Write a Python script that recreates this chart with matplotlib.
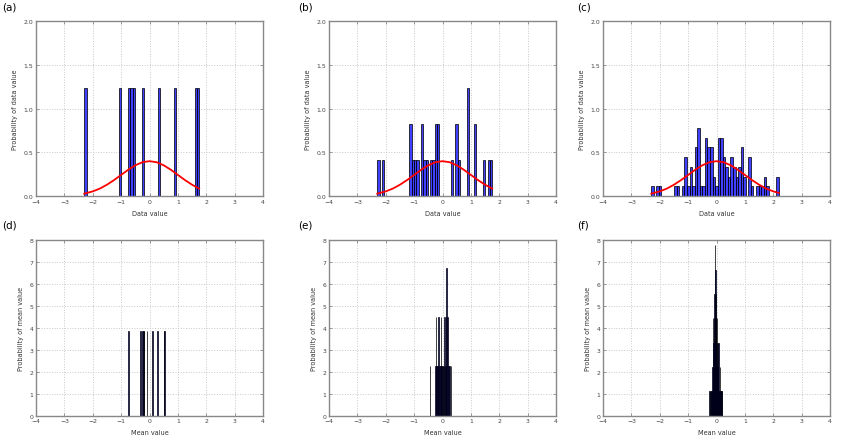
import numpy as np
import matplotlib
matplotlib.use('Agg')
import matplotlib.pyplot as plt

# top row: histograms of 10, 30 and 100 data values (50 bins each)
n_top = [10, 30, 100]
range_top = [(-2.3, 1.75), (-2.3, 1.75), (-2.3, 2.2)]
counts_a = [1, 0, 0, 0, 0, 0, 0, 0, 0, 0,
            0, 0, 0, 0, 0, 1, 0, 0, 0, 1,
            1, 1, 0, 0, 0, 1, 0, 0, 0, 0,
            0, 0, 1, 0, 0, 0, 0, 0, 0, 1,
            0, 0, 0, 0, 0, 0, 0, 0, 1, 1]
counts_b = [1, 0, 1, 0, 0, 0, 0, 0, 0, 0,
            0, 0, 0, 0, 2, 1, 1, 1, 0, 2,
            1, 1, 0, 1, 1, 2, 2, 0, 0, 0,
            0, 0, 1, 0, 2, 1, 0, 0, 0, 3,
            0, 0, 2, 0, 0, 0, 1, 0, 1, 1]
counts_c = [1, 0, 1, 1, 0, 0, 0, 0, 0, 1,
            1, 0, 1, 4, 1, 3, 1, 5, 7, 1,
            1, 6, 5, 5, 2, 1, 6, 6, 4, 3,
            2, 4, 3, 2, 3, 5, 2, 0, 4, 1,
            0, 1, 1, 1, 2, 1, 0, 0, 0, 2]

# bottom row: histograms of the mean values
n_bot = [10, 30, 100]
range_bot = [(-0.75, 0.55), (-0.44, 0.30), (-0.25, 0.20)]
counts_d = [1, 0, 0, 0, 0, 0, 0, 0, 0, 0,
            0, 0, 0, 0, 0, 0, 1, 0, 0, 1,
            1, 1, 0, 0, 0, 1, 0, 0, 0, 0,
            0, 0, 1, 0, 0, 0, 0, 0, 0, 1,
            0, 0, 0, 0, 0, 0, 0, 0, 1, 1]
counts_e = [1, 0, 0, 0, 0, 0, 0, 0, 0, 0,
            0, 0, 0, 1, 2, 1, 0, 1, 0, 1,
            2, 0, 1, 0, 1, 2, 0, 1, 0, 1,
            0, 1, 0, 1, 2, 0, 1, 0, 2, 3,
            0, 2, 0, 1, 0, 0, 1, 0, 0, 1]
counts_f = [1, 0, 0, 1, 0, 1, 1, 0, 1, 1,
            1, 2, 1, 4, 2, 3, 2, 3, 4, 5,
            3, 7, 4, 6, 3, 5, 4, 3, 4, 2,
            2, 2, 3, 2, 2, 3, 1, 1, 1, 1,
            1, 0, 2, 1, 1, 0, 1, 1, 0, 1]

# red reference curve (probability density)
curve_x = [-2.3, -2.0, -1.75, -1.5, -1.25, -1.0, -0.75, -0.5, -0.25, 0.0,
           0.25, 0.5, 0.75, 1.0, 1.25, 1.5, 1.75, 2.0, 2.2]
curve_y = [0.028, 0.054, 0.086, 0.130, 0.183, 0.242, 0.301, 0.352, 0.387, 0.399,
           0.387, 0.352, 0.301, 0.242, 0.183, 0.130, 0.086, 0.054, 0.036]

labels_top = ['(a)', '(b)', '(c)']
labels_bot = ['(d)', '(e)', '(f)']

fig = plt.figure(figsize=(8.59, 4.39), dpi=100)
lefts = [0.0419, 0.3830, 0.7020]
label_x = [0.003, 0.347, 0.672]
w, h = 0.2643, 0.399
fs = 4.4
tick_col = '#444444'


def style(ax, ymax, yticks, xlab, ylab, ylab_x):
    ax.set_xlim(-4, 4)
    ax.set_ylim(0, ymax)
    ax.set_xticks(range(-4, 5))
    ax.set_yticks(yticks)
    ax.grid(True, linestyle=':', color='#c8c8c8', linewidth=0.7)
    ax.set_axisbelow(True)
    for s in ax.spines.values():
        s.set_color('#888888')
        s.set_linewidth(1.0)
    ax.tick_params(direction='in', top=True, right=True, length=2.5, width=0.5,
                   color='#777777', labelsize=fs, labelcolor=tick_col, pad=2)
    ax.set_xlabel(xlab, fontsize=fs + 0.3, color='#333333')
    ax.set_ylabel(ylab, fontsize=fs + 0.3, color='#333333')
    ax.xaxis.set_label_coords(0.5, -0.078)
    ax.yaxis.set_label_coords(ylab_x, 0.5)


def draw_hist(ax, counts, rng, n):
    edges = np.linspace(rng[0], rng[1], len(counts) + 1)
    centers = (edges[:-1] + edges[1:]) / 2
    width = edges[1] - edges[0]
    weights = np.array(counts) / (n * width)
    ax.hist(centers, bins=edges, weights=weights, facecolor='b', edgecolor='k',
            linewidth=0.7, alpha=0.75)


top_counts = [counts_a, counts_b, counts_c]
for i in range(3):
    ax = fig.add_axes([lefts[i], 0.551, w, h])
    draw_hist(ax, top_counts[i], range_top[i], n_top[i])
    cx = np.array(curve_x)
    cy = np.array(curve_y)
    keep = cx <= range_top[i][1] + 1e-9
    ax.plot(cx[keep], cy[keep], color='r', linewidth=1.3)
    style(ax, 2.0, [0.0, 0.5, 1.0, 1.5, 2.0], 'Data value',
          'Probability of data value', -0.078)
    ax.set_yticklabels(['0.0', '0.5', '1.0', '1.5', '2.0'])
    fig.text(label_x[i], 0.995, labels_top[i], fontsize=7.5, va='top', ha='left')

bot_counts = [counts_d, counts_e, counts_f]
for i in range(3):
    ax = fig.add_axes([lefts[i], 0.051, w, h])
    draw_hist(ax, bot_counts[i], range_bot[i], n_bot[i])
    style(ax, 8, range(0, 9), 'Mean value', 'Probability of mean value', -0.055)
    fig.text(label_x[i], 0.497, labels_bot[i], fontsize=7.5, va='top', ha='left')

fig.savefig('out.png', dpi=100)
